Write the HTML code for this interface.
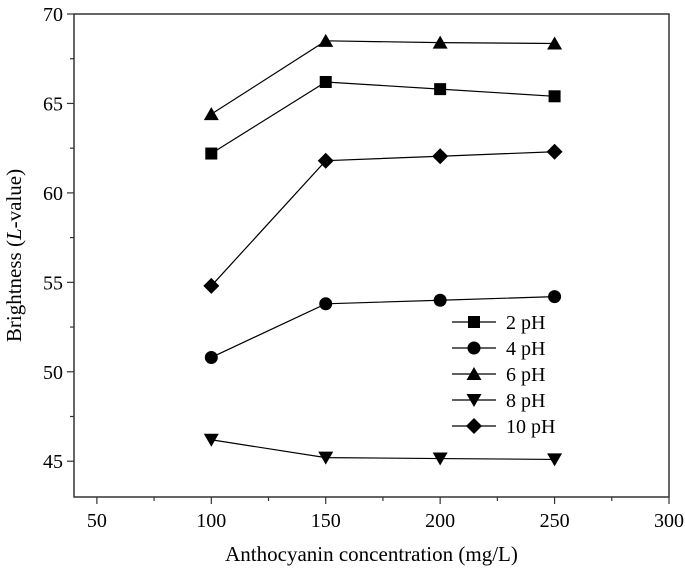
<!DOCTYPE html>
<html><head><meta charset="utf-8"><style>body{margin:0;background:#fff}svg{display:block;font-family:"Liberation Serif",serif}</style></head>
<body>
<svg id="c" width="685" height="576"></svg>
<script>
const categories=[100,150,200,250];
const s2=[62.2,66.2,65.8,65.4];
const s4=[50.8,53.8,54.0,54.2];
const s6=[64.4,68.5,68.4,68.35];
const s8=[46.2,45.2,45.15,45.1];
const s10=[54.8,61.8,62.05,62.3];
const xTicks=[50,100,150,200,250,300];
const yTicks=[45,50,55,60,65,70];
const seriesNames=["2 pH","4 pH","6 pH","8 pH","10 pH"];
const L=74,R=669,T=14,B=497;
const X=v=>L+(v-40)/(300-40)*(R-L);
const Y=v=>B-(v-43)/(70-43)*(B-T);
const svg=document.getElementById('c');const NS='http://www.w3.org/2000/svg';
function mk(t,a,p){const e=document.createElementNS(NS,t);for(const k in a)e.setAttribute(k,a[k]);(p||svg).appendChild(e);return e;}
const frame=mk('rect',{x:L,y:T,width:R-L,height:B-T,fill:'none',stroke:'#333','stroke-width':1.5});


xTicks.forEach(v=>{const l=mk('line',{x1:X(v),x2:X(v),y1:B,y2:B+7,stroke:'#333','stroke-width':1.2});


const m=mk('line',{x1:X(v+25),x2:X(v+25),y1:B,y2:B+4,stroke:'#333','stroke-width':1.2});
if(v+25>300)m.remove();
const t=mk('text',{x:X(v),y:B+30,'text-anchor':'middle','font-size':20});t.textContent=v;

});
yTicks.forEach(v=>{const l=mk('line',{x1:L-7,x2:L,y1:Y(v),y2:Y(v),stroke:'#333','stroke-width':1.2});


if(v<70)mk('line',{x1:L-4,x2:L,y1:Y(v+2.5),y2:Y(v+2.5),stroke:'#333','stroke-width':1.2});
const t=mk('text',{x:L-11,y:Y(v)+7,'text-anchor':'end','font-size':20});t.textContent=v;

});
const xt=mk('text',{x:(L+R)/2,y:561,'text-anchor':'middle','font-size':21});xt.textContent='Anthocyanin concentration (mg/L)';


const yt=mk('text',{transform:`translate(21,${(T+B)/2}) rotate(-90)`,'text-anchor':'middle','font-size':21});
yt.innerHTML='Brightness (<tspan font-style="italic">L</tspan>-value)';


function marker(kind,x,y,g){
 if(kind==0)return mk('rect',{x:x-6,y:y-6,width:12,height:12},g);
 if(kind==1)return mk('circle',{cx:x,cy:y,r:6.5},g);
 if(kind==2)return mk('polygon',{points:`${x},${y-7} ${x-7.5},${y+6} ${x+7.5},${y+6}`},g);
 if(kind==3)return mk('polygon',{points:`${x},${y+7} ${x-7.5},${y-6} ${x+7.5},${y-6}`},g);
 return mk('polygon',{points:`${x},${y-8} ${x+8},${y} ${x},${y+8} ${x-8},${y}`},g);
}
[s2,s4,s6,s8,s10].forEach((s,i)=>{const g=mk('g',{fill:'#000'});


mk('polyline',{points:s.map((v,j)=>X(categories[j])+','+Y(v)).join(' '),fill:'none',stroke:'#000','stroke-width':1.2},g);
s.forEach((v,j)=>{const m=marker(i,X(categories[j]),Y(v),g);

});
const ly=322+i*26;const lg=mk('g',{},svg);


mk('line',{x1:452,x2:496,y1:ly,y2:ly,stroke:'#000','stroke-width':1.2},lg);
marker(i,474,ly,lg);
const t=mk('text',{x:506,y:ly+7,'font-size':20},lg);t.textContent=seriesNames[i];});
</script>
</body></html>
